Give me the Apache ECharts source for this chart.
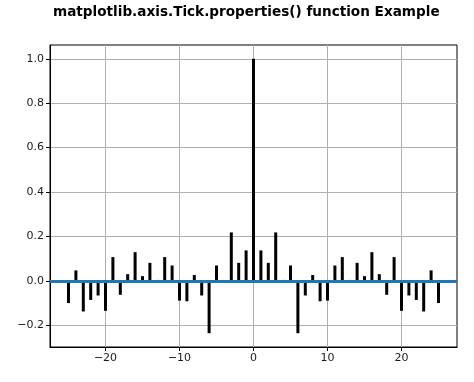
<!DOCTYPE html>
<html><head><meta charset="utf-8">
<script src="https://cdn.jsdelivr.net/npm/echarts@6/dist/echarts.min.js"></script>
<style>html,body{margin:0;padding:0;background:#fff}#c{width:474px;height:382px}</style>
</head><body><div id="c"></div>
<script>
const titleText = 'matplotlib.axis.Tick.properties() function Example';
const lags = [-25,-24,-23,-22,-21,-20,-19,-18,-17,-16,-15,-14,-13,-12,-11,-10,-9,-8,-7,-6,-5,-4,-3,-2,-1,
  0,1,2,3,4,5,6,7,8,9,10,11,12,13,14,15,16,17,18,19,20,21,22,23,24,25];
const correls = [-0.100,0.047,-0.138,-0.086,-0.066,-0.135,0.107,-0.063,0.030,0.129,0.021,0.081,0.004,0.107,0.069,-0.089,-0.092,0.026,-0.066,-0.236,0.069,0.004,0.218,0.081,0.137,
  1.0,0.137,0.081,0.218,0.004,0.069,-0.236,-0.066,0.026,-0.092,-0.089,0.069,0.107,0.004,0.081,0.021,0.129,0.030,-0.063,0.107,-0.135,-0.066,-0.086,-0.138,0.047,-0.100];
const xTicks = [-20,-10,0,10,20];
const yTicks = [-0.2,0,0.2,0.4,0.6,0.8,1.0];
const xRange = [-27.5, 27.5];
const yRange = [-0.298, 1.062];

const fmt = (v, d) => { const s = Math.abs(v).toFixed(d); return v < 0 ? '\u2212' + s : s; };
const font = 'DejaVu Sans';
const chart = echarts.init(document.getElementById('c'), null, {renderer: 'canvas'});
const axisCommon = {
  axisLine: {show: true, onZero: false, lineStyle: {color: '#000', width: 1}},
  splitLine: {show: true, lineStyle: {color: '#b0b0b0', width: 1}},
};
chart.setOption({
  animation: false,
  backgroundColor: '#fff',
  title: {text: titleText, left: 53, top: 5, padding: 0,
    textStyle: {fontFamily: font, fontWeight: 'bold', fontSize: 13.6, color: '#000'}},
  grid: {left: 50, right: 17, top: 45, bottom: 35, show: true, borderColor: '#000', borderWidth: 1},
  xAxis: Object.assign({type: 'value', min: xRange[0], max: xRange[1],
    axisTick: {show: true, inside: false, length: 4, customValues: xTicks, lineStyle: {color: '#000'}},
    axisLabel: {customValues: xTicks, fontFamily: font, fontSize: 11, color: '#1a1a1a', margin: 6,
      formatter: v => fmt(v, 0)}}, axisCommon),
  yAxis: Object.assign({type: 'value', min: yRange[0], max: yRange[1],
    axisTick: {show: true, inside: false, length: 4, customValues: yTicks, lineStyle: {color: '#000'}},
    axisLabel: {customValues: yTicks, fontFamily: font, fontSize: 11, color: '#1a1a1a', margin: 6,
      formatter: v => fmt(v, 1)}}, axisCommon),
  series: [{
    type: 'bar', barWidth: 3, itemStyle: {color: '#000'},
    data: lags.map((l, i) => [l, correls[i]]),
    markLine: {symbol: 'none', silent: true, label: {show: false}, z: 5,
      lineStyle: {color: '#1f77b4', width: 3, type: 'solid'},
      data: [{yAxis: 0}]}
  }]
});
</script></body></html>
